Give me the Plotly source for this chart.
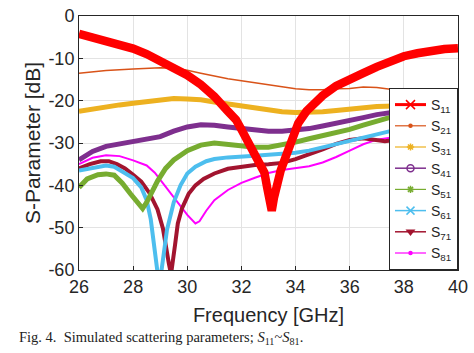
import plotly.graph_objects as go

# ---- data (frequency in GHz, S-parameter in dB) ----
s11_f = [26, 26.5, 27, 27.5, 28, 28.5, 29, 29.5, 30, 30.5, 31, 31.5, 31.8, 32, 32.3, 32.5, 32.7, 32.85, 32.95,
         33.05, 33.12, 33.2, 33.3, 33.45, 33.65, 33.85, 34.1, 34.4, 34.7, 35, 35.5, 36, 36.5, 37, 37.5, 38, 38.5, 39, 39.5, 40]
s11_db = [-4.2, -5, -6, -6.8, -7.7, -9, -10.6, -12.2, -14, -16.2, -19, -22.5, -24.5, -26.8, -30.5, -33, -35, -37, -40.5,
          -45.5, -46, -43, -40, -36.5, -33, -29, -25.3, -22.5, -20.5, -18.8, -16.5, -14.8, -13.5, -12, -10.5, -9.5, -8.8, -8.2, -7.8, -7.6]

s21_f = [26, 27, 28, 29, 29.5, 30, 30.5, 31, 31.5, 32, 32.5, 33, 33.5, 34, 34.5, 35, 35.5, 36, 36.5, 37, 37.5, 38, 39, 40]
s21_db = [-13.5, -12.9, -12.5, -12.2, -12.3, -12.8, -13.5, -14.2, -14.8, -15.3, -15.8, -16.3, -16.8, -17.2, -17.4, -17.4,
          -17.2, -17.1, -16.8, -16.9, -17.3, -17.6, -18, -18.3]

s31_f = [26, 26.5, 27, 27.5, 28, 28.5, 29, 29.5, 30, 30.5, 31, 31.5, 32, 32.5, 33, 33.5, 34, 34.5, 35, 35.5, 36, 36.5, 37, 38, 40]
s31_db = [-22.5, -22, -21.3, -21, -20.6, -20.2, -19.8, -19.5, -19.6, -19.8, -20.3, -20.8, -21.4, -21.9, -22.3, -22.6,
          -22.8, -22.8, -22.6, -22.3, -22, -21.6, -21.4, -21.2, -21]

s41_f = [26, 26.5, 27, 27.5, 28, 28.5, 29, 29.5, 30, 30.5, 31, 31.5, 32, 32.5, 33, 33.5, 34, 34.5, 35, 35.5, 36, 36.5,
         37, 37.5, 38, 39, 40]
s41_db = [-34, -32, -30.8, -30.2, -29.8, -29.3, -28.5, -27.2, -26.2, -25.7, -25.8, -26.2, -26.6, -27, -27.2, -27.2, -27,
          -26.6, -26, -25.4, -24.7, -24, -23.3, -22.8, -22.4, -22, -21.8]

s51_f = [26, 26.3, 26.7, 27, 27.3, 27.6, 27.9, 28.2, 28.35, 28.5, 28.7, 28.9, 29.2, 29.5, 30, 30.5, 31, 31.5, 32, 32.5,
         33, 33.5, 34, 34.5, 35, 35.5, 36, 36.5, 37, 37.5, 38, 40]
s51_db = [-40.5, -38.5, -37.5, -37.3, -37.6, -39.5, -42, -44.5, -45.5, -44, -41.5, -39, -36, -34, -31.8, -30.5, -30, -30.3,
          -30.8, -31, -31, -30.5, -29.8, -29, -28.3, -27.6, -26.8, -25.8, -24.8, -23.8, -23, -22]

s61_f = [26, 26.5, 27, 27.3, 27.6, 28, 28.3, 28.5, 28.65, 28.78, 28.88, 28.95, 29.05, 29.12, 29.25, 29.5, 29.75, 30, 30.3,
         30.7, 31, 31.5, 32, 32.5, 33, 33.5, 34, 34.5, 35, 35.5, 36, 36.5, 37, 37.5, 38, 40]
s61_db = [-36.5, -35.8, -35.3, -35.6, -36.8, -38.3, -40.5, -43.5, -48, -54, -60, -63, -60, -56, -50.5, -44, -40, -37.2,
          -35.6, -34.3, -33.8, -33.4, -33.1, -33, -32.8, -32.6, -32.3, -31.8, -31, -30.2, -29.4, -28.8, -28, -27.2, -26.5, -25]

s71_f = [26, 26.4, 26.8, 27.1, 27.4, 27.7, 28, 28.3, 28.6, 28.9, 29.1, 29.2, 29.32, 29.4, 29.48, 29.55, 29.65, 29.8, 30.05,
         30.3, 30.6, 31, 31.5, 32, 32.5, 33, 33.5, 34, 34.5, 35, 35.5, 36, 36.5, 37, 37.3, 38, 39, 40]
s71_db = [-36, -35, -34.3, -34.3, -35, -36, -37.5, -39.1, -41.8, -45.7, -50.2, -54.5, -58.5, -61, -58, -54, -49, -45.5, -42,
          -40, -38.5, -37.2, -36.1, -35.6, -35.2, -35, -34.7, -33.8, -32.7, -31.5, -30.2, -29.3, -28.9, -29.2, -29.6, -29, -28, -27]

s81_f = [26, 26.5, 27, 27.5, 28, 28.5, 28.8, 29.1, 29.4, 29.7, 30, 30.3, 30.45, 30.7, 31, 31.5, 32, 32.5, 33, 33.5, 34,
         34.5, 35, 35.5, 36, 36.5, 37, 37.5, 38, 40]
s81_db = [-35, -33.5, -32.9, -33.1, -34.1, -35.3, -37, -39.5, -42, -44.5, -47, -49, -48.5, -46, -43.5, -41.1, -39.4, -38.2,
          -37.1, -36.4, -36, -35.5, -34.6, -33.3, -31.8, -30.3, -29.2, -28.7, -28.3, -28]

names = ["S<sub>11</sub>", "S<sub>21</sub>", "S<sub>31</sub>", "S<sub>41</sub>",
         "S<sub>51</sub>", "S<sub>61</sub>", "S<sub>71</sub>", "S<sub>81</sub>"]
x_ticks = [26, 28, 30, 32, 34, 36, 38, 40]
y_ticks = [0, -10, -20, -30, -40, -50, -60]

series = [(s11_f, s11_db), (s21_f, s21_db), (s31_f, s31_db), (s41_f, s41_db),
          (s51_f, s51_db), (s61_f, s61_db), (s71_f, s71_db), (s81_f, s81_db)]
colors = ["#FF0000", "#D95319", "#EDB120", "#7E2F8E", "#77AC30", "#4DBEEE", "#A2142F", "#FF00FF"]
widths = [8.5, 1.5, 5, 5, 5, 4, 4, 2]
leg_widths = [3, 1.2, 1.2, 1.5, 1.2, 1.5, 1.5, 1.2]
symbols = ["x-thin-open", "circle", "asterisk-open", "circle-open", "asterisk-open", "x-thin-open", "triangle-down", "circle"]
msizes = [9, 3, 6, 7, 6, 8, 6, 3]

fig = go.Figure()
order = [7, 6, 5, 4, 3, 2, 1, 0]
for i in order:
    f, d = series[i]
    fig.add_trace(go.Scatter(x=f, y=d, mode="lines", showlegend=False,
                             line=dict(color=colors[i], width=widths[i]), hoverinfo="skip"))
for i in range(8):
    fig.add_trace(go.Scatter(x=[None], y=[None], mode="lines+markers", name=names[i],
                             line=dict(color=colors[i], width=leg_widths[i]),
                             marker=dict(symbol=symbols[i], size=msizes[i], color=colors[i],
                                         line=dict(color=colors[i], width=1.5))))

axis_common = dict(showline=True, linecolor="#262626", linewidth=1, mirror=True,
                   gridcolor="#E3E3E3", gridwidth=1, zeroline=False,
                   ticks="inside", ticklen=4, tickcolor="#262626",
                   ticklabeloverflow="allow",
                   tickfont=dict(family="Liberation Sans, Arial", size=18, color="#262626"))

fig.update_xaxes(range=[26, 40], tickvals=x_ticks, ticktext=[str(v) for v in x_ticks],
                 title=dict(text="Frequency [GHz]", font=dict(family="Liberation Sans, Arial", size=20, color="#262626"),
                            standoff=12),
                 **axis_common)
fig.update_yaxes(range=[-60, 0], tickvals=y_ticks, ticktext=[str(v) for v in y_ticks],
                 title=dict(text="S-Parameter [dB]", font=dict(family="Liberation Sans, Arial", size=21, color="#262626"),
                            standoff=2),
                 **axis_common)

fig.update_layout(
    width=474, height=353,
    margin=dict(l=79, r=9, t=6, b=83),
    paper_bgcolor="white", plot_bgcolor="white",
    showlegend=True,
    legend=dict(x=1, y=0, xanchor="right", yanchor="bottom",
                bgcolor="white", bordercolor="#262626", borderwidth=1,
                font=dict(family="Liberation Sans, Arial", size=14, color="#262626"),
                itemwidth=31, tracegroupgap=0),
    annotations=[dict(text="Fig. 4.  Simulated scattering parameters; <i>S</i><sub>11</sub>~<i>S</i><sub>81</sub>.",
                      xref="paper", yref="paper", x=-0.163, y=-0.31, xanchor="left", yanchor="bottom",
                      showarrow=False,
                      font=dict(family="Liberation Serif, Times New Roman", size=14.5, color="#222222"))],
)

fig.write_html("out.html")
